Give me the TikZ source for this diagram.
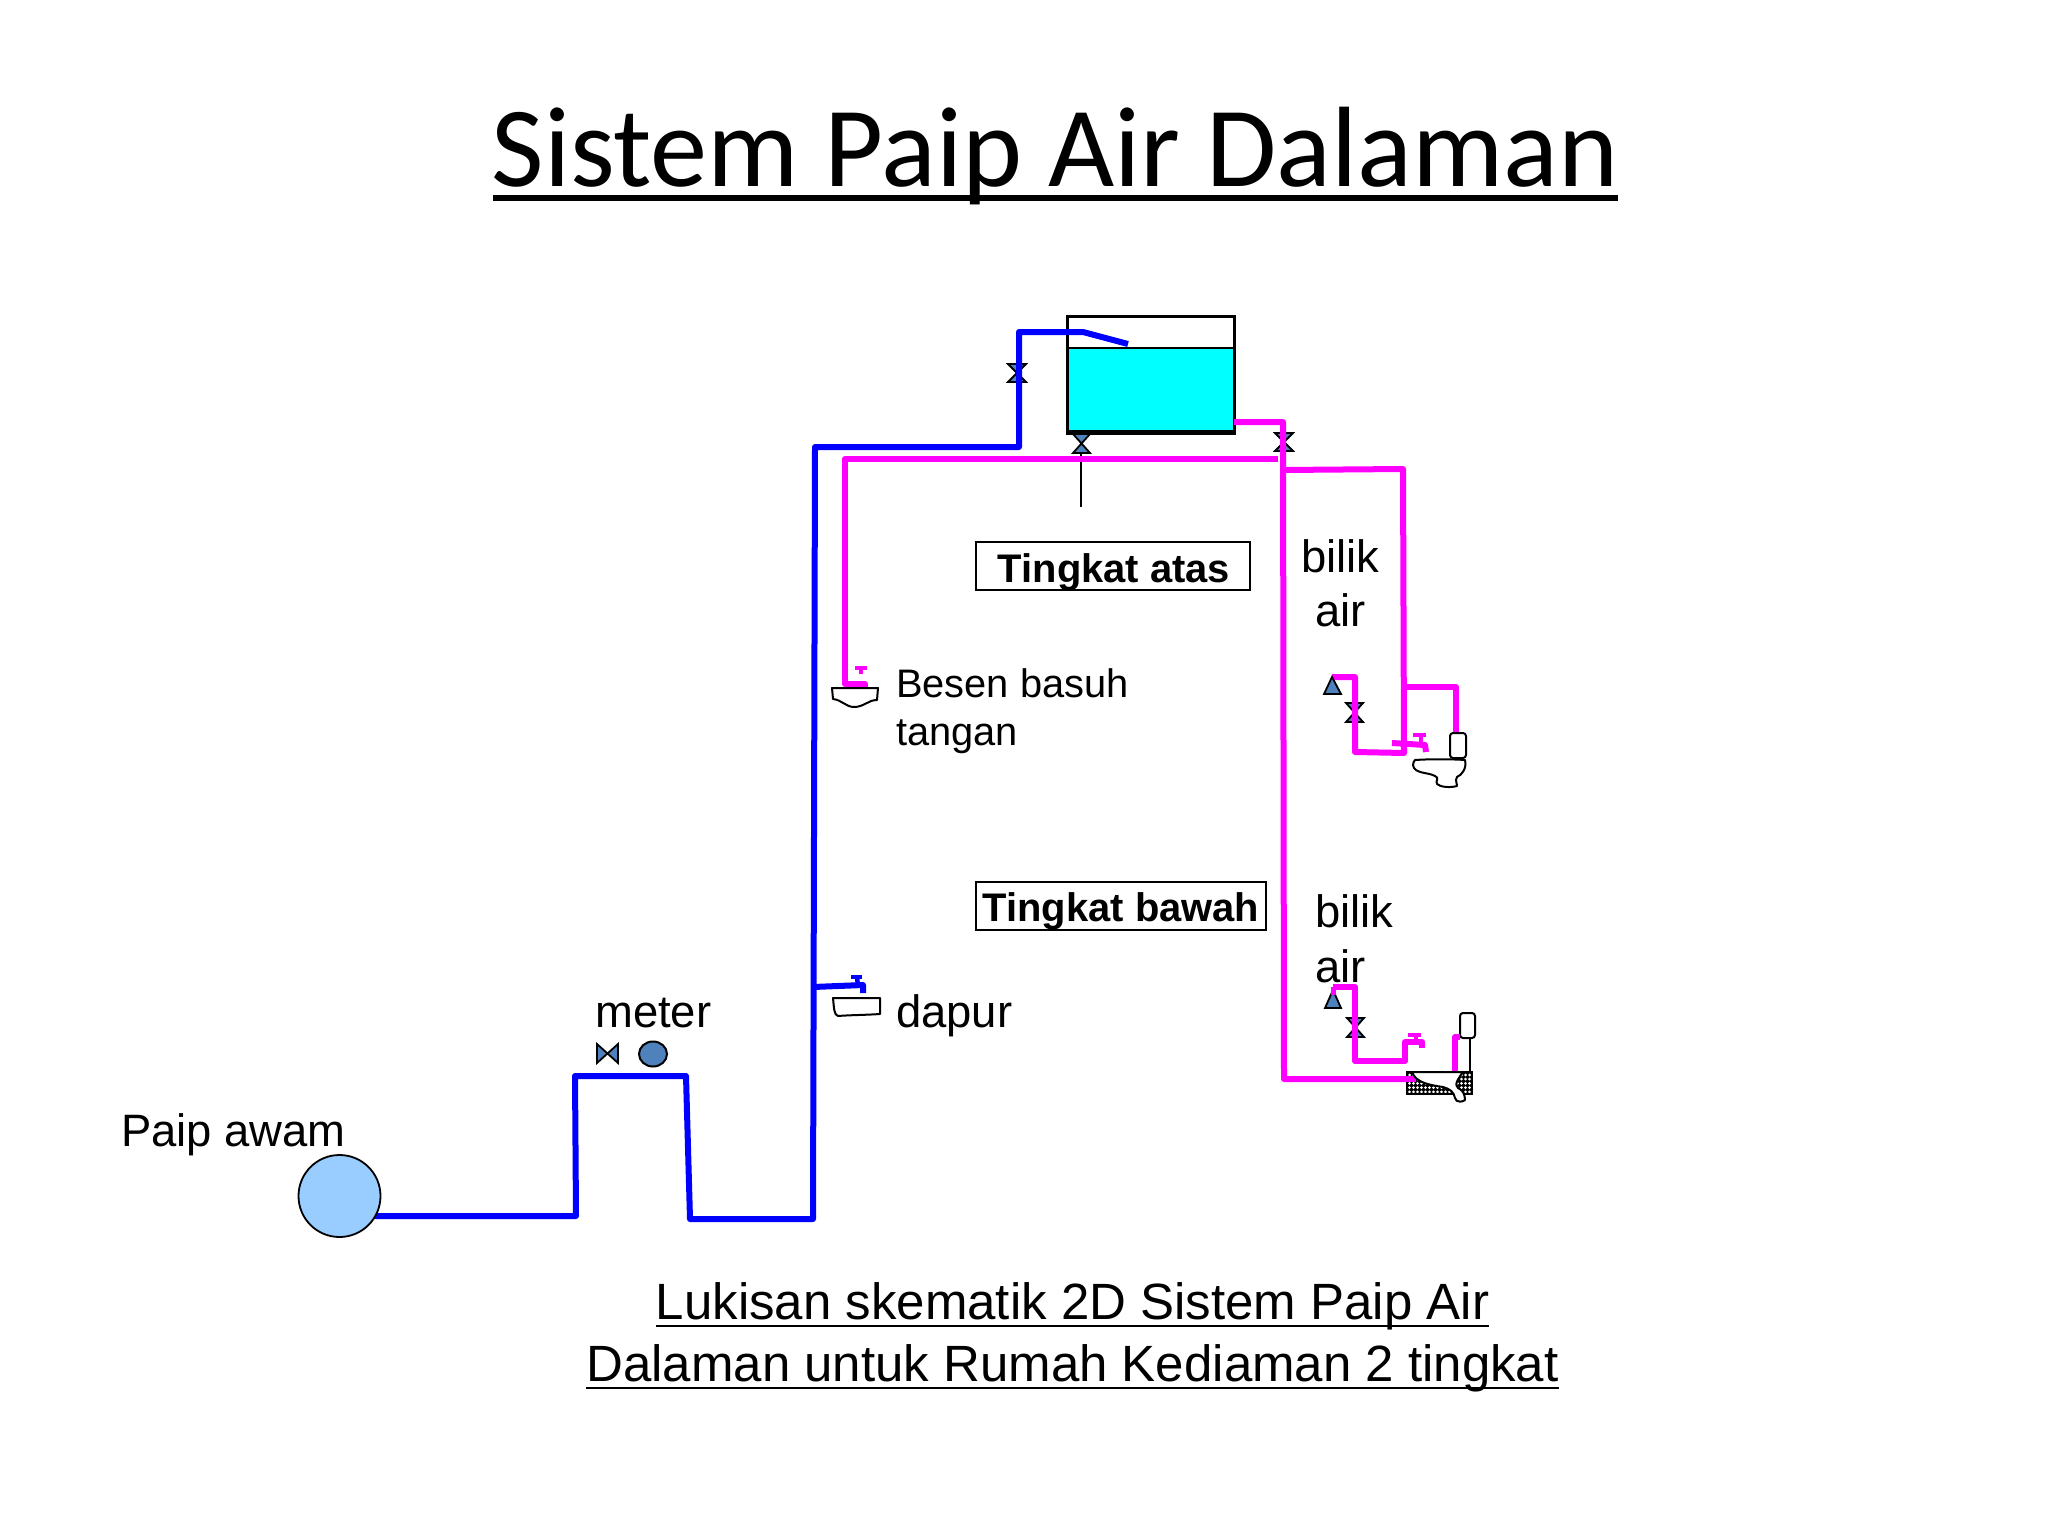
\documentclass[tikz,border=0pt]{standalone}
\usepackage{fontspec}
\setmainfont{Liberation Sans}
\newfontfamily\titlefont{Carlito}
\definecolor{pipeblue}{HTML}{0000FF}
\definecolor{pipemag}{HTML}{FF00FF}
\definecolor{water}{HTML}{00FFFF}
\definecolor{steel}{HTML}{4F81BD}
\definecolor{lightb}{HTML}{99CCFF}
\tikzset{
  lbl/.style={anchor=base west,inner sep=0pt,font=\fontsize{45.4}{54}\selectfont},
  smalllbl/.style={anchor=base west,inner sep=0pt,font=\fontsize{39.8}{48}\selectfont},
  floorlbl/.style={anchor=base,inner sep=0pt,font=\fontsize{39.9}{48}\selectfont\bfseries},
  caplbl/.style={anchor=base,inner sep=0pt,font=\fontsize{51}{60}\selectfont},
  framebox/.style={draw=black,line width=2.2pt,fill=white},
  blue pipe/.style={draw=pipeblue,line width=6pt,line join=round},
  mag pipe/.style={draw=pipemag,line width=6pt,line join=round},
  thin blue pipe/.style={draw=pipeblue,line width=4.5pt,line join=round},
  thin mag pipe/.style={draw=pipemag,line width=4.5pt,line join=round},
  valve/.style={draw=black,line width=1.8pt,fill=steel,line join=miter},
  fixture/.style={draw=black,line width=2pt,fill=white,line join=round},
  uline/.style={draw=black},
}
\begin{document}
\begin{tikzpicture}[x=1pt,y=-1pt]
\useasboundingbox (0,0) rectangle (2048,1536);
\fill[white] (0,0) rectangle (2048,1536);

% title
\node[anchor=base,inner sep=0pt,font=\titlefont\fontsize{114.3}{126}\selectfont] (title) at (1055,186) {Sistem Paip Air Dalaman};
\draw[uline,line width=6.5pt] (493,198) -- (1618,198);

% tank
\fill[water] (1067,348) rectangle (1234,433);
\draw[black,line width=3pt] (1067,316) rectangle (1234,433);
\draw[black,line width=1.5pt] (1067,348) -- (1234,348);
\draw[black,line width=5pt] (1067,432) -- (1234,432);

% valves
\draw[valve] (1008,364) -- (1026,364) -- (1008,382) -- (1026,382) -- cycle;
\draw[valve] (1073,453) -- (1090,453) -- (1073,434) -- (1090,434) -- cycle;
\draw[valve] (1275,433) -- (1293,433) -- (1275,451) -- (1293,451) -- cycle;
\draw[valve] (1346,703) -- (1363,703) -- (1346,722) -- (1363,722) -- cycle;
\draw[valve] (1347,1018) -- (1364,1018) -- (1347,1037) -- (1364,1037) -- cycle;

% stem below tank valve
\draw[black,line width=1.8pt] (1081,453) -- (1081,507);

% blue supply
\draw[blue pipe] (376,1216) -- (576,1216) -- (575,1076) -- (686,1076) -- (690,1219) -- (813,1219) -- (815,447) -- (1019,447) -- (1019,332) -- (1083,332) -- (1128,344);
\draw[blue pipe] (813,987) -- (863,985) -- (863,993);
\draw[thin blue pipe] (851,977) -- (862,977);
\draw[thin blue pipe] (857,977) -- (858,986);

% magenta from tank
\draw[mag pipe] (1278,459) -- (845,459) -- (845,684) -- (865,684) -- (865,689);
\draw[thin mag pipe] (855,668) -- (867,668);
\draw[thin mag pipe] (861,668) -- (861,674);
\draw[mag pipe] (1234,422) -- (1283,422) -- (1284,1079) -- (1413,1079);
\draw[mag pipe] (1283,470) -- (1403,469) -- (1404,753) -- (1355,752) -- (1355,677) -- (1332,677);
\draw[mag pipe] (1403,687) -- (1456,687) -- (1456,733);
\draw[mag pipe] (1392,743) -- (1425,745) -- (1426,752);
\draw[thin mag pipe] (1413,735) -- (1426,735);
\draw[thin mag pipe] (1421,735) -- (1421,745);
\draw[mag pipe] (1333,987) -- (1355,987) -- (1355,1061) -- (1405,1061) -- (1405,1042) -- (1422,1042) -- (1422,1048);
\draw[thin mag pipe] (1408,1035) -- (1421,1035);
\draw[thin mag pipe] (1416,1035) -- (1416,1042);

% ball cocks
\draw[valve] (1332,677) -- (1341,694) -- (1324,694) -- cycle;
\draw[valve] (1333,990) -- (1341,1008) -- (1325,1008) -- cycle;
\draw[mag pipe,line width=5pt] (1333,987) -- (1333,995);

% upper WC
\draw[fixture,rounded corners=3pt] (1450,733) rectangle (1466,758);
\draw[fixture] (1415,760) .. controls (1430,759) and (1450,759) .. (1465,760)
  .. controls (1467,768) and (1462,775) .. (1457,777)
  .. controls (1455,780) and (1457,784) .. (1457,786)
  .. controls (1450,788) and (1440,787) .. (1437,784)
  .. controls (1435,781) and (1440,778) .. (1435,776)
  .. controls (1428,772) and (1414,774) .. (1413,765)
  .. controls (1413,763) and (1414,761) .. (1415,760) -- cycle;

% lower WC
\draw[fixture,rounded corners=3pt] (1460,1013) rectangle (1475,1038);
\draw[black,line width=2pt] (1470,1038) -- (1470,1072);
\draw[mag pipe] (1455,1072) -- (1455,1037) -- (1460,1037);
\fill[black] (1407,1072) rectangle (1472,1094);
\foreach \dx in {0,1,...,15}{
  \foreach \dy in {0,1,...,4}{
    \fill[white] ({1409.5+4*\dx},{1075+4.2*\dy}) circle [radius=1.5pt];
  }
}
\draw[black,line width=2pt] (1407,1072) rectangle (1472,1094);
\draw[mag pipe] (1400,1079) -- (1416,1079);
\draw[fixture] (1412,1072) .. controls (1416,1083) and (1430,1085) .. (1443,1087)
  .. controls (1450,1089) and (1454,1092) .. (1455,1098)
  .. controls (1456,1103) and (1463,1102) .. (1465,1100)
  .. controls (1465,1095) and (1463,1090) .. (1458,1088)
  .. controls (1453,1085) and (1460,1076) .. (1463,1072) -- cycle;

% basins
\draw[fixture,fill=none] (832,688) -- (878,688) -- (877,700)
  .. controls (868,700) and (864,707) .. (854,707)
  .. controls (846,707) and (842,700) .. (833,699) -- cycle;
\draw[fixture,fill=none] (833,998) -- (880,998) -- (880,1014)
  .. controls (866,1015) and (850,1015) .. (838,1016)
  .. controls (834,1015) and (834,1008) .. (833,998) -- cycle;

% public main and meter
\draw[blue pipe] (340,1216) -- (376,1216);
\draw[black,line width=1.8pt,fill=lightb] (339.5,1196) circle [radius=41pt];
\draw[valve] (597,1044) -- (618,1063) -- (618,1044) -- (597,1063) -- cycle;
\draw[black,line width=2pt,fill=steel] (653,1054) ellipse [x radius=14pt,y radius=12.5pt];

% floor labels
\draw[framebox] (976,542) rectangle (1250,590);
\draw[framebox] (976,882) rectangle (1266,930);
\node[floorlbl] (atas) at (1114,582) {Tingkat atas};
\node[floorlbl] (bawah) at (1121,921) {Tingkat bawah};

% labels
\node[lbl] (paip) at (121,1146) {Paip awam};
\node[lbl] (meter) at (595,1027) {meter};
\node[lbl] (dapur) at (896,1027) {dapur};
\node[smalllbl] (besen) at (896,697) {Besen basuh};
\node[smalllbl] (tangan) at (896,745) {tangan};
\node[lbl] (b1) at (1301,572) {bilik};
\node[lbl] (a1) at (1315,626) {air};
\node[lbl] (b2) at (1315,927) {bilik};
\node[lbl] (a2) at (1315,982) {air};

% caption
\node[caplbl] (cap1) at (1072.5,1319) {Lukisan skematik 2D Sistem Paip Air};
\node[caplbl] (cap2) at (1072.5,1381) {Dalaman untuk Rumah Kediaman 2 tingkat};
\draw[uline,line width=2.8pt] ([yshift=-7pt]cap1.base west) -- ([yshift=-7pt]cap1.base east);
\draw[uline,line width=2.8pt] ([yshift=-7pt]cap2.base west) -- ([yshift=-7pt]cap2.base east);
\end{tikzpicture}
\end{document}
